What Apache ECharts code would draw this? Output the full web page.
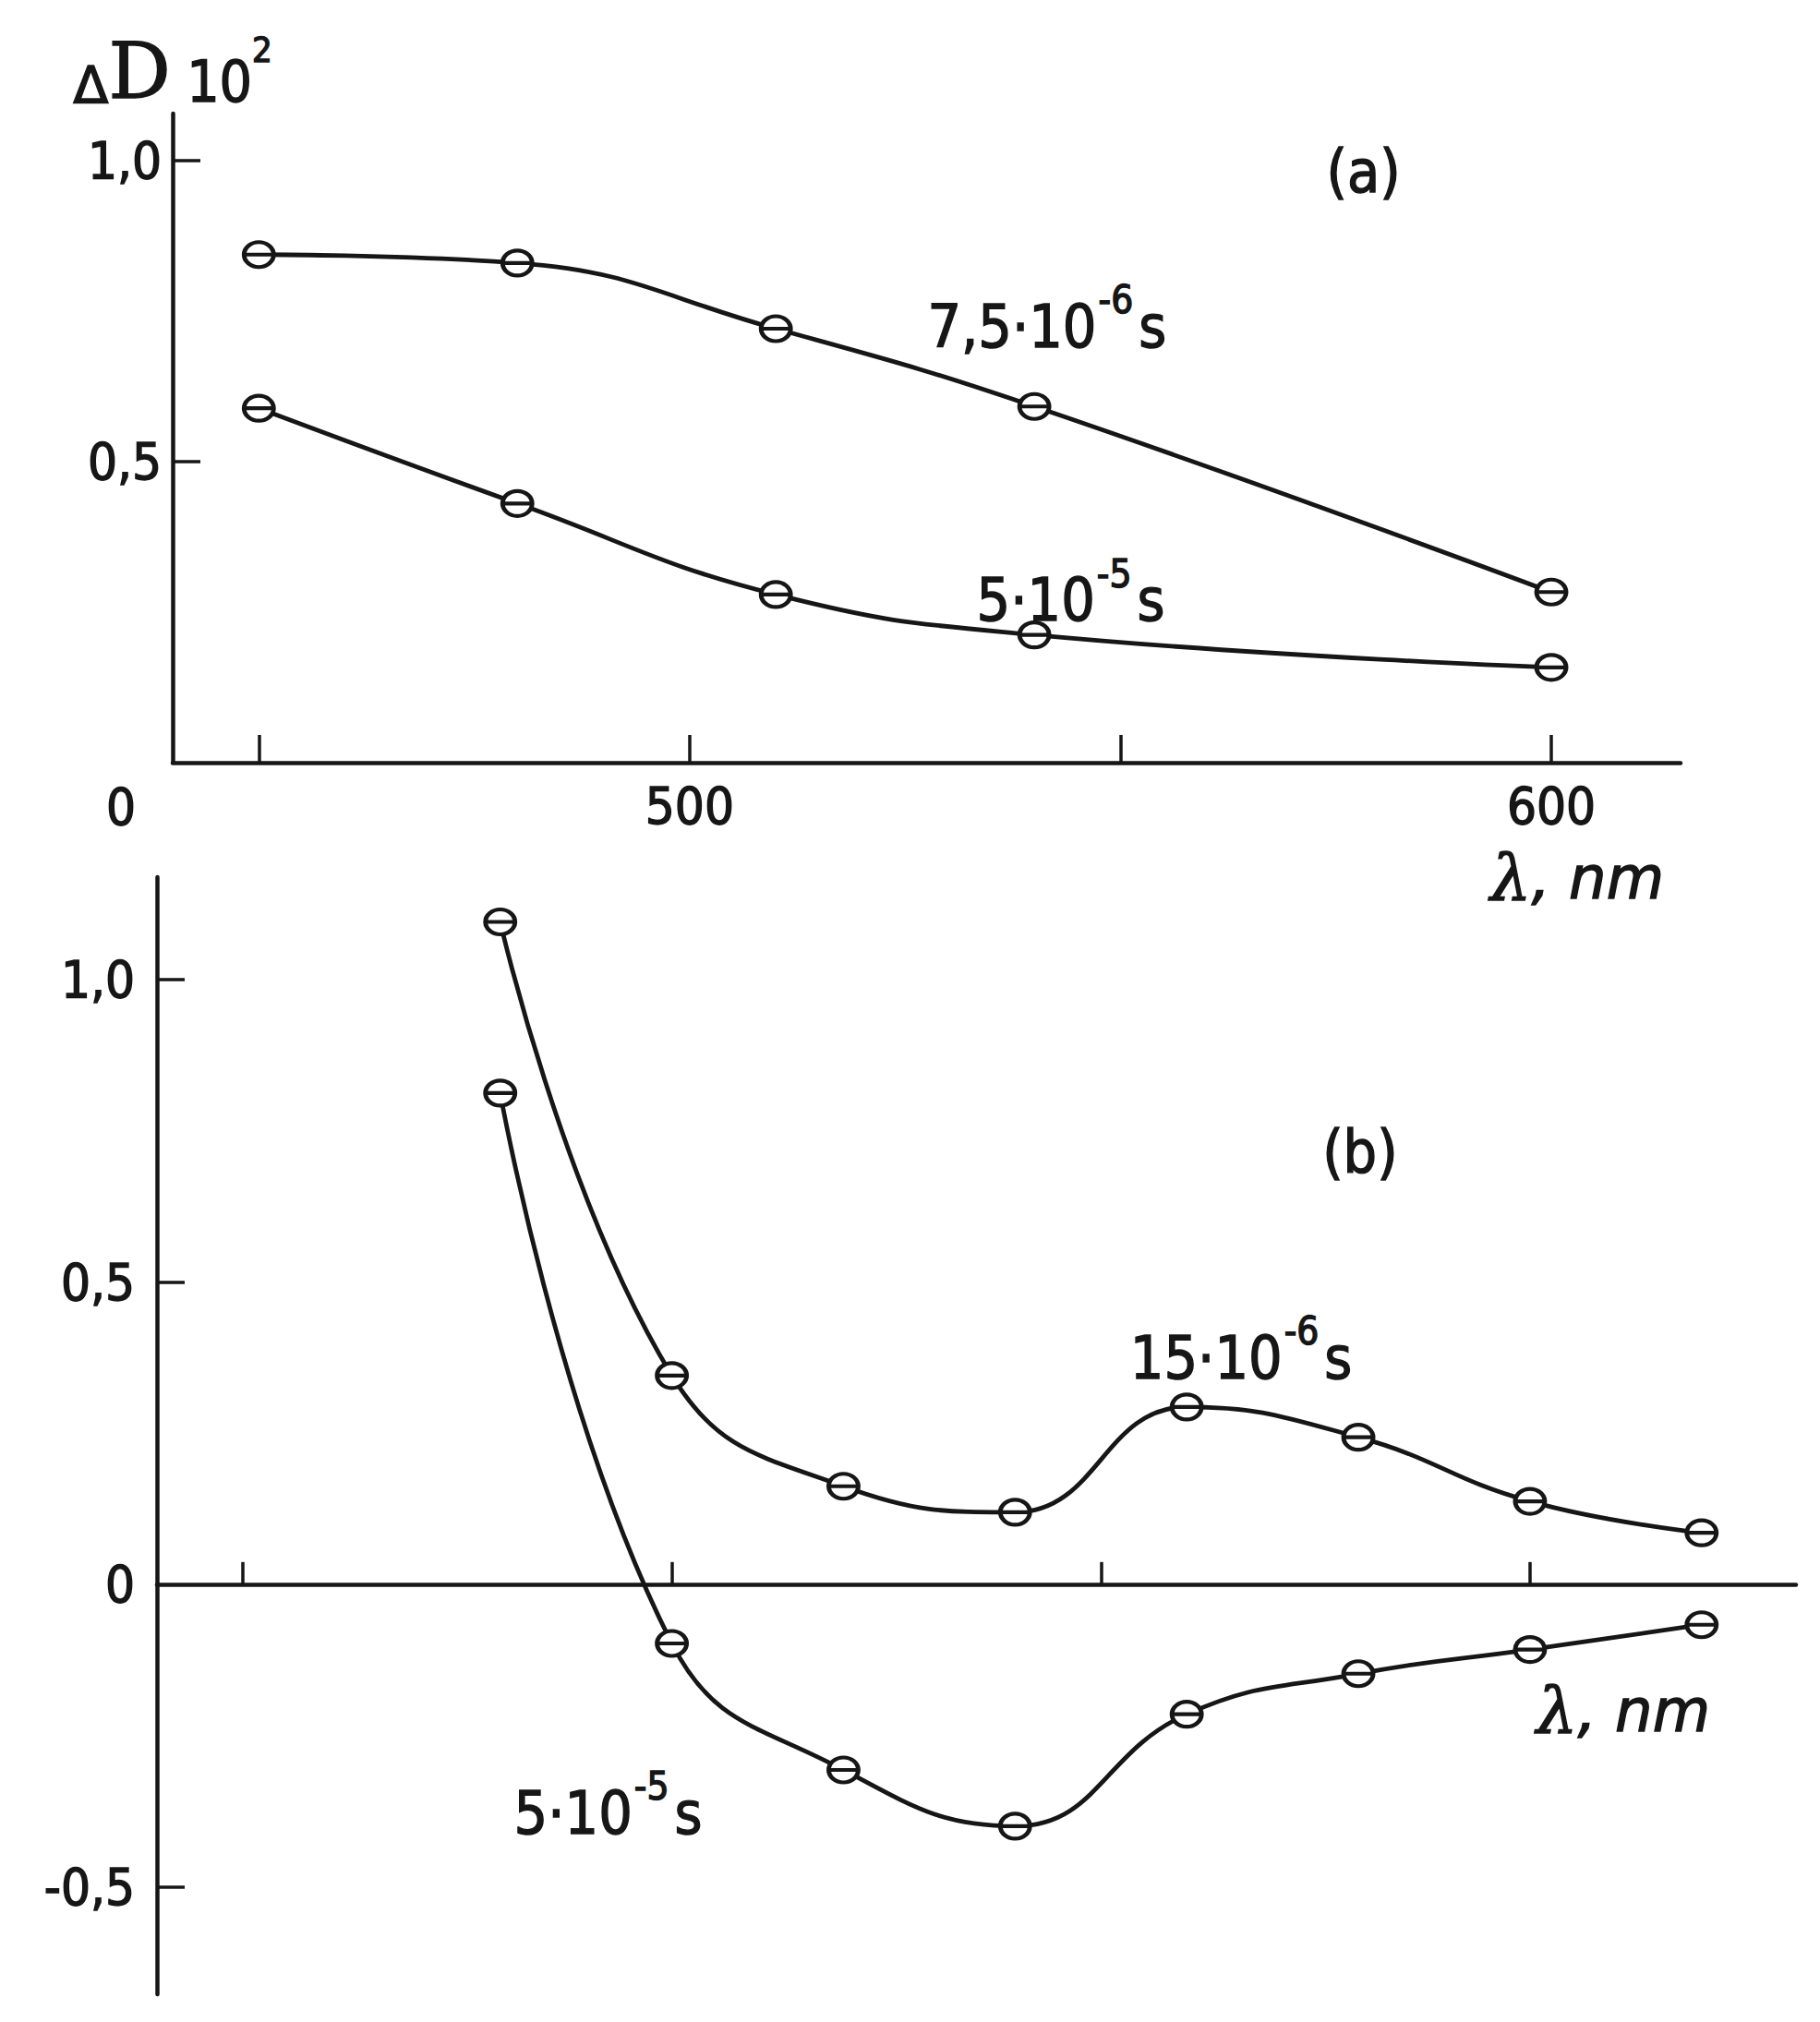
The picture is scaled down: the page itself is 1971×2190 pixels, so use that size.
<!DOCTYPE html>
<html><head><meta charset="utf-8">
<script src="https://cdn.jsdelivr.net/npm/echarts@6/dist/echarts.min.js"></script>
<style>html,body{margin:0;padding:0;background:#fff}#c{width:1971px;height:2190px}</style>
</head><body><div id="c"></div>
<script>
// ---- Panel (a) ----
const waveA = [450, 480, 510, 540, 600];
const dA_short = [0.843, 0.829, 0.720, 0.591, 0.283];   // 7,5·10^-6 s
const dA_long  = [0.588, 0.430, 0.279, 0.212, 0.158];   // 5·10^-5 s
// ---- Panel (b) ----
const waveB = [480, 500, 520, 540, 560, 580, 600, 620];
const dB_short = [1.095, 0.345, 0.162, 0.119, 0.293, 0.243, 0.137, 0.085];       // 15·10^-6 s
const dB_long  = [0.812, -0.098, -0.307, -0.400, -0.215, -0.148, -0.108, -0.067]; // 5·10^-5 s
// ---- ticks ----
const xTickValues = [450, 500, 550, 600];
const xLabelValuesA = [500, 600];
const yTickValuesA = [0.5, 1.0];
const yLabelValuesA = [0, 0.5, 1.0];
const yTickValuesB = [-0.5, 0.5, 1.0];
const yLabelValuesB = [-0.5, 0, 0.5, 1.0];
// ---- annotation texts ----
const notesA = [
  {text: '(a)', at: [578.2, 0.995], align: 'center'},
  {text: '7,5·10{sup|-6}s', at: [527.6, 0.737], align: 'left'},
  {text: '5·10{sup|-5}s', at: [533.3, 0.283], align: 'left'}
];
const notesB = [
  {text: '(b)', at: [580.2, 0.728], align: 'center'},
  {text: '15·10{sup|-6}s', at: [553.4, 0.388], align: 'left'},
  {text: '5·10{sup|-5}s', at: [481.6, -0.365], align: 'left'}
];

const INK = '#161616';
const FONT = "'DejaVu Sans Condensed','Liberation Sans Narrow','DejaVu Sans',sans-serif";
const EMB = {textBorderColor: INK, textBorderWidth: 1.4};
const markerPath = 'path://M0,10 A10,10 0 1,1 20,10 A10,10 0 1,1 0,10 Z M0,10 L20,10';
const fmt = v => (Math.abs(v) < 1e-9 ? '0' : v.toFixed(1).replace('.', ','));

function lineSeries(name, xs, ys, gi) {
  return {
    type: 'line', name, xAxisIndex: gi, yAxisIndex: gi,
    data: xs.map((x, i) => [x, ys[i]]),
    smooth: 0.45,
    symbol: markerPath, symbolSize: [32, 27],
    itemStyle: {color: '#fff', borderColor: INK, borderWidth: 4.5},
    lineStyle: {color: INK, width: 4.8},
    z: 3
  };
}
const richSup = {
  m: Object.assign({fontSize: 64, fontFamily: FONT, color: INK, lineHeight: 82, verticalAlign: 'bottom'}, EMB),
  sup: Object.assign({fontSize: 42, fontFamily: FONT, color: INK, verticalAlign: 'top', padding: [0, 6, 0, 2]}, EMB)
};
function noteSeries(notes, gi) {
  return {
    type: 'scatter', xAxisIndex: gi, yAxisIndex: gi, silent: true,
    symbolSize: 0, z: 5,
    itemStyle: {opacity: 1},
    data: notes.map(n => ({
      value: n.at,
      label: {
        show: true, position: [0, 0], align: n.align, verticalAlign: 'middle',
        color: INK, opacity: 1,
        formatter: n.text.replace(/^([^{]*)/, '{m|$1}').replace(/\}([^{}]+)$/, '}{m|$1}'),
        rich: richSup
      }
    }))
  };
}
const nameRich = {
  l: Object.assign({fontSize: 70, fontFamily: "'DejaVu Serif',serif", fontStyle: 'italic', color: INK}, EMB),
  u: Object.assign({fontSize: 64, fontFamily: "'DejaVu Sans',sans-serif", fontStyle: 'italic', color: INK}, EMB)
};
const tickLabel = Object.assign({fontSize: 56, fontFamily: FONT, color: INK}, EMB);

const chart = echarts.init(document.getElementById('c'), null, {renderer: 'svg'});
chart.setOption({
  animation: false,
  backgroundColor: '#fff',
  grid: [
    {left: 187, right: 151, top: 123, bottom: 1364},
    {left: 170, right: 26, top: 950, bottom: 30}
  ],
  xAxis: [
    {
      type: 'value', gridIndex: 0, min: 440, max: 615,
      axisLine: {lineStyle: {color: INK, width: 4.5}},
      axisTick: {customValues: xTickValues, inside: true, length: 30, lineStyle: {color: INK, width: 3.5}},
      axisLabel: Object.assign({customValues: xLabelValuesA, margin: 18}, tickLabel),
      splitLine: {show: false},
      name: '{l|λ}{u|, nm}', nameLocation: 'end', nameGap: -18,
      nameTextStyle: {rich: nameRich, align: 'right', verticalAlign: 'top', padding: [90, 0, 0, 0]}
    },
    {
      type: 'value', gridIndex: 1, min: 440, max: 631,
      axisLine: {onZero: true, lineStyle: {color: INK, width: 4.5}},
      axisTick: {customValues: xTickValues, inside: true, length: 24, lineStyle: {color: INK, width: 3.5}},
      axisLabel: {show: false},
      splitLine: {show: false},
      name: '{l|λ}{u|, nm}', nameLocation: 'end', nameGap: -93,
      nameTextStyle: {rich: nameRich, align: 'right', verticalAlign: 'top', padding: [102, 0, 0, 0]}
    }
  ],
  yAxis: [
    {
      type: 'value', gridIndex: 0, min: 0, max: 1.077,
      axisLine: {show: true, lineStyle: {color: INK, width: 4.5}},
      axisTick: {show: true, customValues: yTickValuesA, inside: true, length: 30, lineStyle: {color: INK, width: 3.5}},
      axisLabel: Object.assign({customValues: yLabelValuesA, margin: 12,
        formatter: v => (Math.abs(v) < 1e-9 ? '{z|0}' : fmt(v)),
        rich: {z: Object.assign({padding: [94, 28, 0, 0]}, tickLabel)}}, tickLabel),
      splitLine: {show: false},
      name: '{d|Δ}{D|D} {n|10}{s|2}', nameLocation: 'end', nameGap: 4,
      nameTextStyle: {
        rich: {
          d: Object.assign({fontSize: 56, fontFamily: "'DejaVu Sans',sans-serif", color: INK, verticalAlign: 'bottom'}, EMB),
          D: Object.assign({fontSize: 84, fontFamily: "'DejaVu Serif',serif", color: INK, verticalAlign: 'bottom'}, EMB),
          n: Object.assign({fontSize: 62, fontFamily: FONT, color: INK, verticalAlign: 'bottom', padding: [0, 0, 0, 14]}, EMB),
          s: Object.assign({fontSize: 38, fontFamily: FONT, color: INK, verticalAlign: 'top'}, EMB)
        }
      }
    },
    {
      type: 'value', gridIndex: 1, min: -0.678, max: 1.169,
      axisLine: {show: true, onZero: false, lineStyle: {color: INK, width: 4.5}},
      axisTick: {show: true, customValues: yTickValuesB, inside: true, length: 30, lineStyle: {color: INK, width: 3.5}},
      axisLabel: Object.assign({customValues: yLabelValuesB, margin: 24, formatter: fmt}, tickLabel),
      splitLine: {show: false}
    }
  ],
  series: [
    lineSeries('7,5·10⁻⁶ s', waveA, dA_short, 0),
    lineSeries('5·10⁻⁵ s (a)', waveA, dA_long, 0),
    lineSeries('15·10⁻⁶ s', waveB, dB_short, 1),
    lineSeries('5·10⁻⁵ s (b)', waveB, dB_long, 1),
    noteSeries(notesA, 0),
    noteSeries(notesB, 1)
  ]
});
</script></body></html>
